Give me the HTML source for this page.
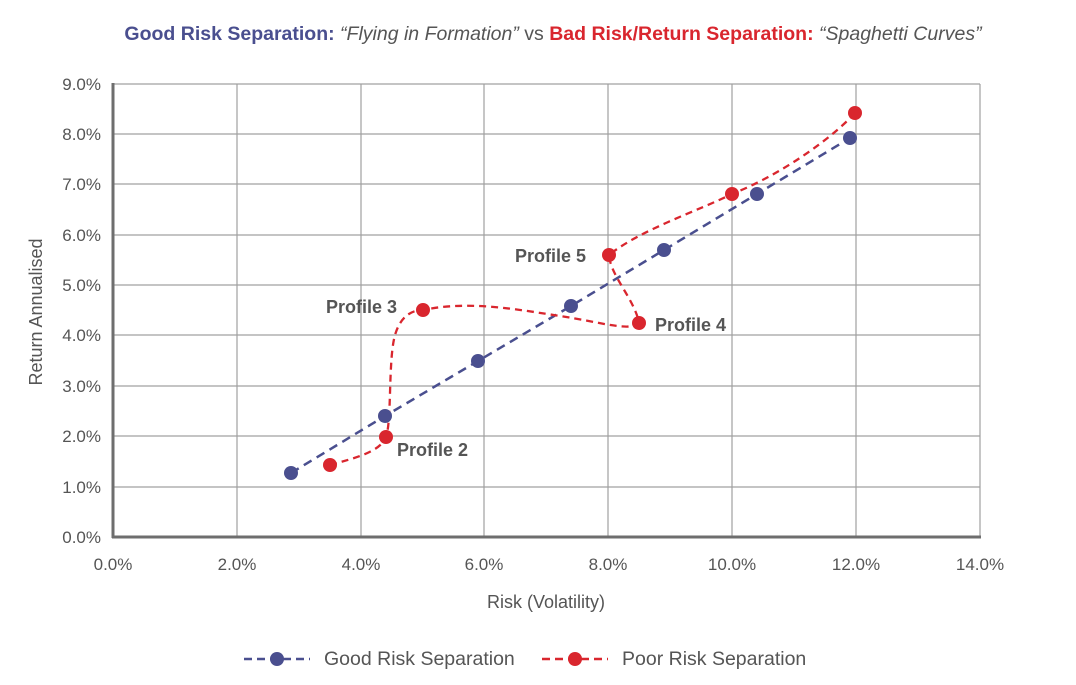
<!DOCTYPE html>
<html><head><meta charset="utf-8"><style>
body{margin:0;background:#fff;}
svg{display:block;font-family:"Liberation Sans",sans-serif;}
</style></head><body>
<svg width="1076" height="685" viewBox="0 0 1076 685" xmlns="http://www.w3.org/2000/svg">
<text x="553" y="40" text-anchor="middle" font-size="19.5" fill="#555"><tspan fill="#4a4f8f" font-weight="bold">Good Risk Separation:</tspan> <tspan font-style="italic">“Flying in Formation”</tspan> vs <tspan fill="#d9262e" font-weight="bold">Bad Risk/Return Separation:</tspan> <tspan font-style="italic">“Spaghetti Curves”</tspan></text>
<g stroke="#a0a0a0" stroke-width="1.2">
<line x1="113" y1="84" x2="980" y2="84"/><line x1="113" y1="134" x2="980" y2="134"/><line x1="113" y1="184" x2="980" y2="184"/><line x1="113" y1="235" x2="980" y2="235"/><line x1="113" y1="285" x2="980" y2="285"/><line x1="113" y1="335" x2="980" y2="335"/><line x1="113" y1="386" x2="980" y2="386"/><line x1="113" y1="436" x2="980" y2="436"/><line x1="113" y1="487" x2="980" y2="487"/>
<line x1="237" y1="84" x2="237" y2="537"/><line x1="361" y1="84" x2="361" y2="537"/><line x1="484" y1="84" x2="484" y2="537"/><line x1="608" y1="84" x2="608" y2="537"/><line x1="732" y1="84" x2="732" y2="537"/><line x1="856" y1="84" x2="856" y2="537"/><line x1="980" y1="84" x2="980" y2="537"/>
</g>
<g stroke="#6e6e6e" stroke-width="3"><line x1="113" y1="83" x2="113" y2="538"/><line x1="112" y1="537" x2="981" y2="537"/></g>
<g font-size="17" fill="#555" text-anchor="end">
<text x="101" y="90">9.0%</text><text x="101" y="140">8.0%</text><text x="101" y="190">7.0%</text><text x="101" y="241">6.0%</text><text x="101" y="291">5.0%</text><text x="101" y="341">4.0%</text><text x="101" y="392">3.0%</text><text x="101" y="442">2.0%</text><text x="101" y="493">1.0%</text><text x="101" y="543">0.0%</text>
</g>
<g font-size="17" fill="#555" text-anchor="middle">
<text x="113" y="570">0.0%</text><text x="237" y="570">2.0%</text><text x="361" y="570">4.0%</text><text x="484" y="570">6.0%</text><text x="608" y="570">8.0%</text><text x="732" y="570">10.0%</text><text x="856" y="570">12.0%</text><text x="980" y="570">14.0%</text>
<text x="546" y="608" font-size="18">Risk (Volatility)</text>
</g>
<text transform="translate(42,312) rotate(-90)" text-anchor="middle" font-size="18" fill="#555">Return Annualised</text>
<polyline points="291,473 385,416 478,361 571,306 664,250 757,194 850,138" fill="none" stroke="#4a4f8f" stroke-width="2.5" stroke-dasharray="9,6"/>
<path d="M330,465 C355,458 380,452 386,437 C392,420 388,360 395,335 C400,318 410,310 423,310 C470,300 520,310 560,316 C600,322 630,332 639,323 C635,300 610,275 609,255 C640,230 700,210 732,194 C780,175 830,140 855,113" fill="none" stroke="#d9262e" stroke-width="2.3" stroke-dasharray="7,5"/>
<g fill="#4a4f8f"><circle cx="291" cy="473" r="7"/><circle cx="385" cy="416" r="7"/><circle cx="478" cy="361" r="7"/><circle cx="571" cy="306" r="7"/><circle cx="664" cy="250" r="7"/><circle cx="757" cy="194" r="7"/><circle cx="850" cy="138" r="7"/></g>
<g fill="#d9262e"><circle cx="330" cy="465" r="7"/><circle cx="386" cy="437" r="7"/><circle cx="423" cy="310" r="7"/><circle cx="639" cy="323" r="7"/><circle cx="609" cy="255" r="7"/><circle cx="732" cy="194" r="7"/><circle cx="855" cy="113" r="7"/></g>
<g font-size="18" font-weight="bold" fill="#555">
<text x="397" y="456">Profile 2</text><text x="326" y="313">Profile 3</text><text x="655" y="331">Profile 4</text><text x="515" y="262">Profile 5</text>
</g>
<line x1="244" y1="659" x2="310" y2="659" stroke="#4a4f8f" stroke-width="2.5" stroke-dasharray="8,5"/><circle cx="277" cy="659" r="7" fill="#4a4f8f"/>
<text x="324" y="665" font-size="19.5" fill="#555">Good Risk Separation</text>
<line x1="542" y1="659" x2="608" y2="659" stroke="#d9262e" stroke-width="2.5" stroke-dasharray="8,5"/><circle cx="575" cy="659" r="7" fill="#d9262e"/>
<text x="622" y="665" font-size="19.5" fill="#555">Poor Risk Separation</text>
</svg>
</body></html>
